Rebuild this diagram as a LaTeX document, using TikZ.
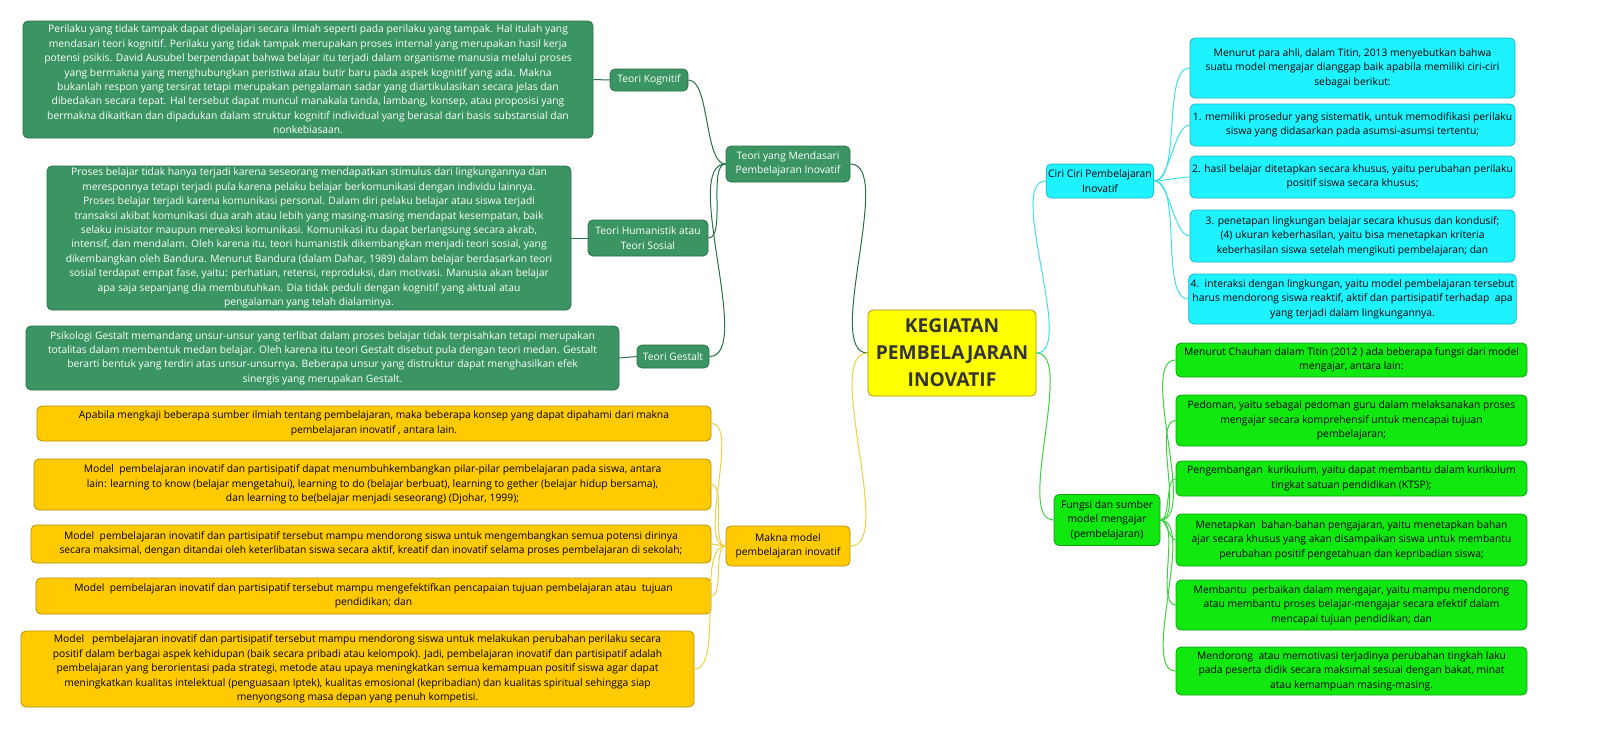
\documentclass[tikz,border=0pt]{standalone}
\usepackage{fontspec}
\setmainfont{Open Sans}
\begin{document}
\begin{tikzpicture}[x=0.5pt,y=-0.5pt,
  bx/.style={rounded corners=2.5pt,align=center,inner sep=1pt,font=\fontsize{5.15}{7.2}\selectfont},
  cy/.style={bx,fill=cyanF,draw=cyanD},
  gr/.style={bx,fill=greenF,draw=greenD},
  dg/.style={bx,fill=dgF,draw=dgD,text=white},
  ye/.style={bx,fill=yeF,draw=yeD},
  ecy/.style={draw=cyanE,line width=0.5pt},
  egr/.style={draw=greenE,line width=0.5pt},
  edg/.style={draw=dgD,line width=0.5pt},
  eye/.style={draw=yeE,line width=0.5pt},
  R/.style={out=0,in=180,looseness=0.6},
  L/.style={out=180,in=0,looseness=0.6}]
\definecolor{cyanF}{HTML}{1EF2FF}\definecolor{cyanD}{HTML}{18B8C8}\definecolor{cyanE}{HTML}{40E0E8}
\definecolor{greenF}{HTML}{10E810}\definecolor{greenD}{HTML}{10A010}\definecolor{greenE}{HTML}{40D040}
\definecolor{dgF}{HTML}{3A9563}\definecolor{dgD}{HTML}{2A7048}
\definecolor{yeF}{HTML}{FFCA00}\definecolor{yeD}{HTML}{B89000}\definecolor{yeE}{HTML}{ECD040}
\definecolor{ctF}{HTML}{FFFF00}
\useasboundingbox[fill=white] (0,0) rectangle (1600,744);

\node[bx,fill=ctF,draw=yeD,minimum width=84pt,minimum height=43pt,font=\fontsize{9.6}{13.5}\selectfont\bfseries,text=black!80] (c) at (952,353) {KEGIATAN\\PEMBELAJARAN\\INOVATIF};

% Ciri
\node[cy,minimum width=46pt,minimum height=17pt] (ciri) at (1100,181) {Ciri Ciri Pembelajaran\\Inovatif};
\node[cy,minimum width=162.5pt,minimum height=30pt] (c1) at (1352.5,68) {Menurut para ahli, dalam Titin, 2013 menyebutkan bahwa\\suatu model mengajar dianggap baik apabila memiliki ciri-ciri\\sebagai berikut:};
\node[cy,minimum width=162.5pt,minimum height=21pt] (c2) at (1352.5,125) {1. memiliki prosedur yang sistematik, untuk memodifikasi perilaku\\siswa yang didasarkan pada asumsi-asumsi tertentu;};
\node[cy,minimum width=162.5pt,minimum height=21pt] (c3) at (1352.5,177) {2. hasil belajar ditetapkan secara khusus, yaitu perubahan perilaku\\positif siswa secara khusus;};
\node[cy,minimum width=162.5pt,minimum height=26pt] (c4) at (1352.5,236) {3. penetapan lingkungan belajar secara khusus dan kondusif;\\(4) ukuran keberhasilan, yaitu bisa menetapkan kriteria\\keberhasilan siswa setelah mengikuti pembelajaran; dan};
\node[cy,minimum width=162.5pt,minimum height=25pt] (c5) at (1352.5,299) {4.\ \ interaksi dengan lingkungan, yaitu model pembelajaran tersebut\\harus mendorong siswa reaktif, aktif dan partisipatif terhadap\ \ apa\\yang terjadi dalam lingkungannya.};

% Fungsi
\node[gr,minimum width=53pt,minimum height=25.5pt] (fu) at (1107,520) {Fungsi dan sumber\\model mengajar\\(pembelajaran)};
\node[gr,minimum width=175.5pt,minimum height=17pt] (f1) at (1351.5,360) {Menurut Chauhan dalam Titin (2012 ) ada beberapa fungsi dari model\\mengajar, antara lain:};
\node[gr,minimum width=175.5pt,minimum height=25.5pt] (f2) at (1351.5,420.5) {Pedoman, yaitu sebagai pedoman guru dalam melaksanakan proses\\mengajar secara komprehensif untuk mencapai tujuan\\pembelajaran;};
\node[gr,minimum width=175.5pt,minimum height=17.5pt] (f3) at (1351.5,478.5) {Pengembangan\ \ kurikulum, yaitu dapat membantu dalam kurikulum\\tingkat satuan pendidikan (KTSP);};
\node[gr,minimum width=175.5pt,minimum height=26pt] (f4) at (1351.5,540) {Menetapkan\ \ bahan-bahan pengajaran, yaitu menetapkan bahan\\ajar secara khusus yang akan disampaikan siswa untuk membantu\\perubahan positif pengetahuan dan kepribadian siswa;};
\node[gr,minimum width=175.5pt,minimum height=25pt] (f5) at (1351.5,605) {Membantu\ \ perbaikan dalam mengajar, yaitu mampu mendorong\\atau membantu proses belajar-mengajar secara efektif dalam\\mencapai tujuan pendidikan; dan};
\node[gr,minimum width=175.5pt,minimum height=24pt] (f6) at (1351.5,671) {Mendorong\ \ atau memotivasi terjadinya perubahan tingkah laku\\pada peserta didik secara maksimal sesuai dengan bakat, minat\\atau kemampuan masing-masing.};

% Teori
\node[dg,minimum width=62pt,minimum height=18pt] (te) at (788,164) {Teori yang Mendasari\\Pembelajaran Inovatif};
\node[dg,minimum width=39pt,minimum height=11pt] (tk) at (649,80) {Teori Kognitif};
\node[dg,minimum width=285pt,minimum height=58.5pt] (lk) at (308,79.5) {Perilaku yang tidak tampak dapat dipelajari secara ilmiah seperti pada perilaku yang tampak. Hal itulah yang\\mendasari teori kognitif. Perilaku yang tidak tampak merupakan proses internal yang merupakan hasil kerja\\potensi psikis. David Ausubel berpendapat bahwa belajar itu terjadi dalam organisme manusia melalui proses\\yang bermakna yang menghubungkan peristiwa atau butir baru pada aspek kognitif yang ada. Makna\\bukanlah respon yang tersirat tetapi merupakan pengalaman sadar yang diartikulasikan secara jelas dan\\dibedakan secara tepat. Hal tersebut dapat muncul manakala tanda, lambang, konsep, atau proposisi yang\\bermakna dikaitkan dan dipadukan dalam struktur kognitif individual yang berasal dari basis substansial dan\\nonkebiasaan.};
\node[dg,minimum width=60pt,minimum height=18pt] (th) at (648,238) {Teori Humanistik atau\\Teori Sosial};
\node[dg,minimum width=262pt,minimum height=72pt] (lh) at (309,238) {Proses belajar tidak hanya terjadi karena seseorang mendapatkan stimulus dari lingkungannya dan\\meresponnya tetapi terjadi pula karena pelaku belajar berkomunikasi dengan individu lainnya.\\Proses belajar terjadi karena komunikasi personal. Dalam diri pelaku belajar atau siswa terjadi\\transaksi akibat komunikasi dua arah atau lebih yang masing-masing mendapat kesempatan, baik\\selaku inisiator maupun mereaksi komunikasi. Komunikasi itu dapat berlangsung secara akrab,\\intensif, dan mendalam. Oleh karena itu, teori humanistik dikembangkan menjadi teori sosial, yang\\dikembangkan oleh Bandura. Menurut Bandura (dalam Dahar, 1989) dalam belajar berdasarkan teori\\sosial terdapat empat fase, yaitu: perhatian, retensi, reproduksi, dan motivasi. Manusia akan belajar\\apa saja sepanjang dia membutuhkan. Dia tidak peduli dengan kognitif yang aktual atau\\pengalaman yang telah dialaminya.};
\node[dg,minimum width=36pt,minimum height=11.5pt] (tg) at (673,356.5) {Teori Gestalt};
\node[dg,minimum width=296.5pt,minimum height=32pt] (lg) at (322.5,358) {Psikologi Gestalt memandang unsur-unsur yang terlibat dalam proses belajar tidak terpisahkan tetapi merupakan\\totalitas dalam membentuk medan belajar. Oleh karena itu teori Gestalt disebut pula dengan teori medan. Gestalt\\berarti bentuk yang terdiri atas unsur-unsurnya. Beberapa unsur yang distruktur dapat menghasilkan efek\\sinergis yang merupakan Gestalt.};

% Makna
\node[ye,minimum width=62pt,minimum height=20pt] (mk) at (788,546) {Makna model\\pembelajaran inovatif};
\node[ye,minimum width=337pt,minimum height=17.5pt] (m1) at (374,423.5) {Apabila mengkaji beberapa sumber ilmiah tentang pembelajaran, maka beberapa konsep yang dapat dipahami dari makna\\pembelajaran inovatif , antara lain.};
\node[ye,minimum width=338.5pt,minimum height=25.5pt] (m2) at (372.5,484.5) {Model\ \ pembelajaran inovatif dan partisipatif dapat menumbuhkembangkan pilar-pilar pembelajaran pada siswa, antara\\lain: learning to know (belajar mengetahui), learning to do (belajar berbuat), learning to gether (belajar hidup bersama),\\dan learning to be(belajar menjadi seseorang) (Djohar, 1999);};
\node[ye,minimum width=340pt,minimum height=19pt] (m3) at (371,544) {Model\ \ pembelajaran inovatif dan partisipatif tersebut mampu mendorong siswa untuk mengembangkan semua potensi dirinya\\secara maksimal, dengan ditandai oleh keterlibatan siswa secara aktif, kreatif dan inovatif selama proses pembelajaran di sekolah;};
\node[ye,minimum width=337.5pt,minimum height=18pt] (m4) at (373.5,596) {Model\ \ pembelajaran inovatif dan partisipatif tersebut mampu mengefektifkan pencapaian tujuan pembelajaran atau\ \ tujuan\\pendidikan; dan};
\node[ye,minimum width=336.5pt,minimum height=38pt] (m5) at (357.5,669) {Model\ \ \ pembelajaran inovatif dan partisipatif tersebut mampu mendorong siswa untuk melakukan perubahan perilaku secara\\positif dalam berbagai aspek kehidupan (baik secara pribadi atau kelompok). Jadi, pembelajaran inovatif dan partisipatif adalah\\pembelajaran yang berorientasi pada strategi, metode atau upaya meningkatkan semua kemampuan positif siswa agar dapat\\meningkatkan kualitas intelektual (penguasaan Iptek), kualitas emosional (kepribadian) dan kualitas spiritual sehingga siap\\menyongsong masa depan yang penuh kompetisi.};

% edges
\draw[ecy] (c.east) to[R] (ciri.west);
\draw[egr] (c.east) to[R] (fu.west);
\draw[edg] (c.west) to[L] (te.east);
\draw[eye] (c.west) to[L] (mk.east);
\foreach \n in {c1,c2,c3,c4,c5} \draw[ecy] (ciri.east) to[R] (\n.west);
\foreach \n in {f1,f2,f3,f4,f5,f6} \draw[egr] (fu.east) to[R] (\n.west);
\foreach \n in {tk,th,tg} \draw[edg] (te.west) to[L] (\n.east);
\draw[edg] (tk.west) -- (lk.east);
\draw[edg] (th.west) -- (lh.east);
\draw[edg] (tg.west) -- (lg.east);
\foreach \n in {m1,m2,m3,m4,m5} \draw[eye] (mk.west) to[L] (\n.east);
\end{tikzpicture}
\end{document}
